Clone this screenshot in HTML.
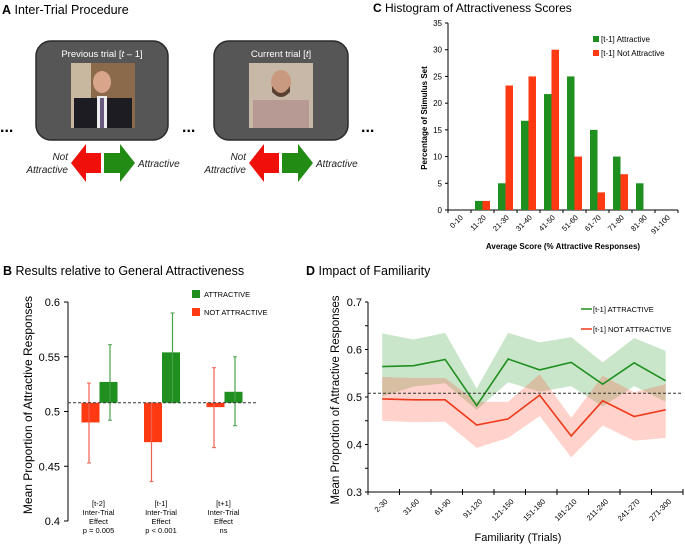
<!DOCTYPE html>
<html><head><meta charset="utf-8"><style>
body{margin:0;background:#fff;}
svg{display:block;font-family:"Liberation Sans",Arial,sans-serif;}
</style></head><body>
<svg id="fig" width="685" height="546" viewBox="0 0 685 546">
<!-- Panel A -->
<g>
<text x="2" y="14" font-size="12.5"><tspan font-weight="bold">A</tspan> Inter-Trial Procedure</text>
<rect x="36" y="41" width="132" height="99" rx="15" fill="#565656" stroke="#2a2a2a" stroke-width="1.5"/>
<text x="102" y="57" font-size="9.5" fill="#fff" text-anchor="middle">Previous trial [<tspan font-style="italic">t</tspan> – 1]</text>
<g>
<rect x="71" y="63" width="64" height="65" fill="#8a6a4a"/>
<rect x="71" y="63" width="20" height="65" fill="#c9b8a0"/>
<rect x="74" y="98" width="58" height="30" fill="#1c1c22"/>
<rect x="97" y="96" width="10" height="32" fill="#eee"/>
<rect x="100" y="98" width="4" height="30" fill="#6a5a80"/>
<ellipse cx="102" cy="82" rx="9" ry="11" fill="#d9a58a"/>
</g>
<rect x="214" y="41" width="134" height="99" rx="15" fill="#565656" stroke="#2a2a2a" stroke-width="1.5"/>
<text x="281" y="57" font-size="9.5" fill="#fff" text-anchor="middle">Current trial [<tspan font-style="italic">t</tspan>]</text>
<g>
<rect x="249" y="63" width="64" height="65" fill="#c8b8a8"/>
<rect x="253" y="100" width="56" height="28" fill="#b89a94"/>
<ellipse cx="281" cy="82" rx="10" ry="12" fill="#c99a80"/>
<path d="M272 86 Q281 100 290 86 L290 92 Q281 102 272 92Z" fill="#5a4030"/>
</g>
<text x="0" y="132" font-size="16" font-weight="bold">...</text>
<text x="182" y="132" font-size="16" font-weight="bold">...</text>
<text x="361" y="132" font-size="16" font-weight="bold">...</text>
<g font-size="10" font-style="italic" fill="#222">
<polygon points="71,163 86,144 86,153 101,153 101,173 86,173 86,182" fill="#f0100a"/>
<polygon points="135,163 120,144 120,153 104,153 104,173 120,173 120,182" fill="#228b14"/>
<text x="68" y="160" text-anchor="end">Not</text>
<text x="68" y="173" text-anchor="end">Attractive</text>
<text x="138" y="167">Attractive</text>
<polygon points="249,163 264,144 264,153 279,153 279,173 264,173 264,182" fill="#f0100a"/>
<polygon points="313,163 298,144 298,153 282,153 282,173 298,173 298,182" fill="#228b14"/>
<text x="246" y="160" text-anchor="end">Not</text>
<text x="246" y="173" text-anchor="end">Attractive</text>
<text x="316" y="167">Attractive</text>
</g>
</g>
<g id="panelC"></g>
<g id="panelB"></g>
<g id="panelD"></g>
</svg>
<script>
// Panel C data
const cCats=["0-10","11-20","21-30","31-40","41-50","51-60","61-70","71-80","81-90","91-100"];
const cAttr=[0,1.7,5,16.7,21.7,25,15,10,5,0];
const cNot=[0,1.7,23.3,25,30,10,3.3,6.7,0,0];
const cTicks=[0,5,10,15,20,25,30,35];
// Panel B data
const bGroups=["[t-2]","[t-1]","[t+1]"];
const bPvals=["p = 0.005","p < 0.001","ns"];
const bAttr=[0.527,0.554,0.518];
const bAttrLo=[0.492,0.508,0.487];
const bAttrHi=[0.561,0.590,0.550];
const bNot=[0.490,0.472,0.504];
const bNotLo=[0.453,0.436,0.467];
const bNotHi=[0.526,0.508,0.540];
const bBase=0.508;
const bTicks=[0.4,0.45,0.5,0.55,0.6];
// Panel D data
const dCats=["2-30","31-60","61-90","91-120","121-150","151-180","181-210","211-240","241-270","271-300"];
const dAttr=[0.564,0.566,0.579,0.482,0.580,0.557,0.573,0.527,0.572,0.534];
const dAttrHi=[0.634,0.621,0.635,0.518,0.635,0.615,0.626,0.573,0.624,0.597];
const dAttrLo=[0.501,0.522,0.529,0.473,0.531,0.511,0.523,0.480,0.523,0.490];
const dNot=[0.496,0.494,0.494,0.441,0.454,0.504,0.418,0.492,0.459,0.473];
const dNotHi=[0.542,0.540,0.540,0.490,0.490,0.548,0.456,0.545,0.510,0.527];
const dNotLo=[0.450,0.447,0.448,0.393,0.414,0.460,0.373,0.440,0.408,0.414];
const dBase=0.508;
const dTicks=[0.3,0.4,0.5,0.6,0.7];

const NS="http://www.w3.org/2000/svg";
function mk(parent,tag,attrs,text){const e=document.createElementNS(NS,tag);for(const k in attrs)e.setAttribute(k,attrs[k]);if(text!==undefined)e.textContent=text;parent.appendChild(e);return e;}
const GREEN="#1f8f1f",RED="#ff3a12";

// ---- Panel C ----
(function(){
const g=document.getElementById('panelC');
const x0=448,x1=678,y0=210,yTop=23;
const ys=v=>y0-(v/35)*(y0-yTop);
const cw=(x1-x0)/cCats.length;
let t=mk(g,'text',{x:373,y:12,'font-size':12});

mk(t,'tspan',{'font-weight':'bold'},'C');mk(t,'tspan',{},' Histogram of Attractiveness Scores');
let ax=mk(g,'line',{x1:x0,y1:y0,x2:x1,y2:y0,stroke:'#000'});

let ay=mk(g,'line',{x1:x0,y1:yTop,x2:x0,y2:y0,stroke:'#000'});

cTicks.forEach(v=>{mk(g,'line',{x1:x0-3,y1:ys(v),x2:x0,y2:ys(v),stroke:'#000'});
 const l=mk(g,'text',{x:x0-6,y:ys(v)+3,'font-size':8,'text-anchor':'end'},v);
 });
for(let i=0;i<=cCats.length;i++)mk(g,'line',{x1:x0+i*cw,y1:y0,x2:x0+i*cw,y2:y0+3,stroke:'#000'});
cCats.forEach((c,i)=>{
 const bx=x0+i*cw+4;
 if(cAttr[i]>0){const r=mk(g,'rect',{x:bx,y:ys(cAttr[i]),width:7.5,height:y0-ys(cAttr[i]),fill:GREEN});
  }
 if(cNot[i]>0){const r=mk(g,'rect',{x:bx+7.5,y:ys(cNot[i]),width:7.5,height:y0-ys(cNot[i]),fill:RED});
  }
 const cx=x0+(i+0.5)*cw+4;
 const l=mk(g,'text',{x:cx,y:y0+8,'font-size':7.5,'text-anchor':'end',transform:`rotate(-45 ${cx} ${y0+8})`},c);
 
});
let xt=mk(g,'text',{x:(x0+x1)/2,y:249,'font-size':8,'font-weight':'bold','text-anchor':'middle'},'Average Score (% Attractive Responses)');

let yt=mk(g,'text',{x:427,y:118,'font-size':8,'font-weight':'bold','text-anchor':'middle',transform:'rotate(-90 427 118)'},'Percentage of Stimulus Set');

let lg=mk(g,'rect',{x:593,y:36,width:6,height:6,fill:GREEN});
let lt=mk(g,'text',{x:601,y:42,'font-size':8},'[t-1] Attractive');
let lr=mk(g,'rect',{x:593,y:50,width:6,height:6,fill:RED});
let lrt=mk(g,'text',{x:601,y:56,'font-size':8},'[t-1] Not Attractive');
})();

// ---- Panel B ----
(function(){
const g=document.getElementById('panelB');
const x0=68,y0=521,yTop=302,vmin=0.4,vmax=0.6;
const ys=v=>y0-(v-vmin)/(vmax-vmin)*(y0-yTop);
let t=mk(g,'text',{x:3,y:275,'font-size':12.5});

mk(t,'tspan',{'font-weight':'bold'},'B');mk(t,'tspan',{},' Results relative to General Attractiveness');
let ay=mk(g,'line',{x1:x0,y1:yTop,x2:x0,y2:y0,stroke:'#000'});

bTicks.forEach(v=>{mk(g,'line',{x1:x0-4,y1:ys(v),x2:x0,y2:ys(v),stroke:'#000'});
 const l=mk(g,'text',{x:x0-8,y:ys(v)+4,'font-size':11,'text-anchor':'end'},String(v));
 });
let yt=mk(g,'text',{x:32,y:405,'font-size':12,'text-anchor':'middle',transform:'rotate(-90 32 405)'},'Mean Proportion of Attractive Responses');

const gw=62.5,bw=18;
bGroups.forEach((gr,i)=>{
 const c=99.5+i*gw;
 const yb=ys(bBase);
 const rn=mk(g,'rect',{x:c-bw,y:Math.min(yb,ys(bNot[i])),width:bw,height:Math.abs(ys(bNot[i])-yb),fill:RED});
 
 const ra=mk(g,'rect',{x:c,y:Math.min(yb,ys(bAttr[i])),width:bw,height:Math.abs(ys(bAttr[i])-yb),fill:GREEN});
 
 const en=c-bw/2-1.5,ea=c+bw/2+1.5;
 [[en,bNotLo[i],bNotHi[i],'#f06050'],[ea,bAttrLo[i],bAttrHi[i],'#4aa04a']].forEach(([ex,lo,hi,col])=>{
  const el=mk(g,'line',{x1:ex,y1:ys(lo),x2:ex,y2:ys(hi),stroke:col,'stroke-width':1.2});
  
  mk(g,'line',{x1:ex-2,y1:ys(lo),x2:ex+2,y2:ys(lo),stroke:col});
  mk(g,'line',{x1:ex-2,y1:ys(hi),x2:ex+2,y2:ys(hi),stroke:col});
 });
 const lines=[gr,'Inter-Trial','Effect',bPvals[i]];
 lines.forEach((s,k)=>{const l=mk(g,'text',{x:c-1,y:506+k*9,'font-size':7.5,'text-anchor':'middle'},s);
  });
});
let bl=mk(g,'line',{x1:x0,y1:ys(bBase),x2:256,y2:ys(bBase),stroke:'#333','stroke-dasharray':'3,2'});

let s1=mk(g,'rect',{x:192,y:290,width:8,height:8,fill:GREEN});
let t1=mk(g,'text',{x:204,y:297,'font-size':7.5},'ATTRACTIVE');
let s2=mk(g,'rect',{x:192,y:308,width:8,height:8,fill:RED});
let t2=mk(g,'text',{x:204,y:315,'font-size':7.5},'NOT ATTRACTIVE');
})();

// ---- Panel D ----
(function(){
const g=document.getElementById('panelD');
const x0=368,x1=683,y0=492,yTop=302,vmin=0.3,vmax=0.7;
const ys=v=>y0-(v-vmin)/(vmax-vmin)*(y0-yTop);
const cw=(x1-x0)/dCats.length;
const xs=i=>x0+(i+0.45)*cw;
let t=mk(g,'text',{x:306,y:275,'font-size':12.5});

mk(t,'tspan',{'font-weight':'bold'},'D');mk(t,'tspan',{},' Impact of Familiarity');
function band(hi,lo,fill,name){
 let d='M'+hi.map((v,i)=>xs(i)+','+ys(v)).join(' L');
 d+=' L'+lo.map((v,i)=>xs(i)+','+ys(v)).reverse().join(' L')+'Z';
 const p=mk(g,'path',{d:d,fill:fill,'fill-opacity':0.25});
 
}
band(dAttrHi,dAttrLo,'#2a9d2a','d-band-attractive');
band(dNotHi,dNotLo,'#ff4a30','d-band-not-attractive');
function line(vals,col,name){
 const p=mk(g,'polyline',{points:vals.map((v,i)=>xs(i)+','+ys(v)).join(' '),fill:'none',stroke:col,'stroke-width':1.6});
 
}
line(dAttr,'#1f8f1f','d-line-attractive');
line(dNot,'#ee3a1a','d-line-not-attractive');
let bl=mk(g,'line',{x1:x0,y1:ys(dBase),x2:x1,y2:ys(dBase),stroke:'#333','stroke-dasharray':'3,2'});

let ax=mk(g,'line',{x1:x0,y1:y0,x2:x1,y2:y0,stroke:'#000'});
let ay=mk(g,'line',{x1:x0,y1:yTop,x2:x0,y2:y0,stroke:'#000'});
for(let v=0.3;v<=0.7001;v+=0.05)mk(g,'line',{x1:x0-3,y1:ys(v),x2:x0,y2:ys(v),stroke:'#000'});
dTicks.forEach(v=>{const l=mk(g,'text',{x:x0-6,y:ys(v)+4,'font-size':11,'text-anchor':'end'},v.toFixed(1));
 });
for(let i=0;i<=dCats.length;i++)mk(g,'line',{x1:x0+i*cw,y1:y0-3,x2:x0+i*cw,y2:y0+3,stroke:'#000'});
dCats.forEach((c,i)=>{const cx=xs(i)+6;
 const l=mk(g,'text',{x:cx,y:y0+10,'font-size':7.5,'text-anchor':'end',transform:`rotate(-45 ${cx} ${y0+10})`},c);
 });
let xt=mk(g,'text',{x:518,y:541,'font-size':11,'text-anchor':'middle'},'Familiarity (Trials)');

let yt=mk(g,'text',{x:339,y:400,'font-size':11.5,'text-anchor':'middle',transform:'rotate(-90 339 400)'},'Mean Proportion of Attractive Responses');

let l1=mk(g,'line',{x1:581,y1:309,x2:592,y2:309,stroke:'#1f8f1f','stroke-width':1.5});
let t1=mk(g,'text',{x:593,y:312,'font-size':7.5},'[t-1] ATTRACTIVE');
let l2=mk(g,'line',{x1:581,y1:329,x2:592,y2:329,stroke:'#ee3a1a','stroke-width':1.5});
let t2=mk(g,'text',{x:593,y:332,'font-size':7.5},'[t-1] NOT ATTRACTIVE');
})();
</script>
</body></html>
